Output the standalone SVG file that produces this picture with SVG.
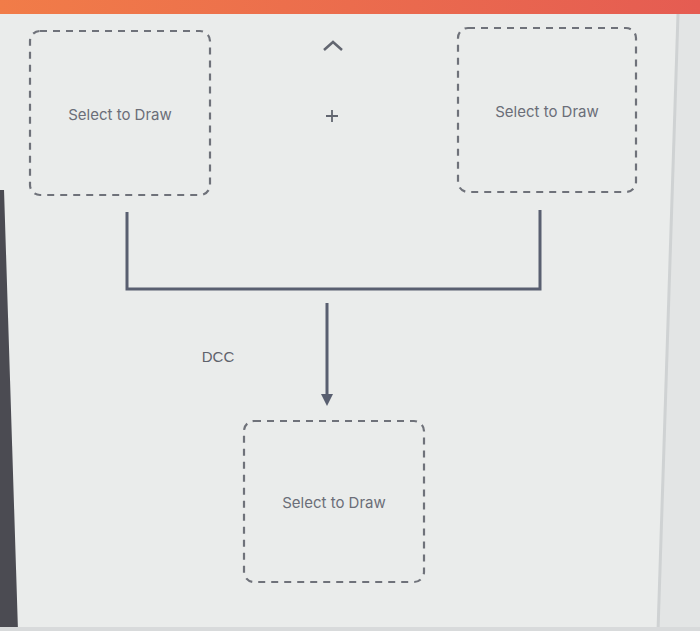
<svg xmlns="http://www.w3.org/2000/svg" width="700" height="631" viewBox="0 0 700 631">
<defs>
<linearGradient id="topbar" x1="0" y1="0" x2="1" y2="0">
<stop offset="0" stop-color="#f17c48"/>
<stop offset="1" stop-color="#e55c52"/>
</linearGradient>
<marker id="arrow" viewBox="0 0 12 12" refX="2" refY="6" markerWidth="12" markerHeight="12" markerUnits="userSpaceOnUse" orient="auto">
<path d="M0,0 L12,6 L0,12 Z" fill="#595f70"/>
</marker>
</defs>
<style>
.box{fill:none;stroke:#6f727a;stroke-width:2.2;stroke-dasharray:7 6}
.lbl{font-family:"Inter","Liberation Sans",sans-serif;font-size:15px;fill:#6b6e78;text-anchor:middle}
.conn{fill:none;stroke:#595f70;stroke-width:3}
</style>
<rect x="0" y="0" width="700" height="631" fill="#eaeceb"/>
<rect x="0" y="0" width="700" height="14" fill="url(#topbar)"/>
<polygon points="678,14 700,14 700,631 658,631" fill="#e3e5e5"/>
<line x1="678" y1="14" x2="658" y2="631" stroke="#cfd2d3" stroke-width="3"/>
<polygon points="0,190 4,190 18,631 0,631" fill="#4b4b52"/>
<rect x="0" y="627" width="700" height="4" fill="#d8dadb"/>
<g id="node-left">
<rect class="box" x="30" y="31" width="180" height="164" rx="10"/>
<text class="lbl" x="120" y="120">Select to Draw</text>
</g>
<g id="node-right">
<rect class="box" x="458" y="28" width="178" height="164" rx="10"/>
<text class="lbl" x="547" y="117">Select to Draw</text>
</g>
<g id="node-bottom">
<rect class="box" x="244" y="421" width="180" height="161" rx="10"/>
<text class="lbl" x="334" y="508">Select to Draw</text>
</g>
<g id="chevron">
<path d="M324,50 L333,42 L342,50" fill="none" stroke="#626670" stroke-width="2.5"/>
</g>
<g id="plus">
<path d="M332,110 V122 M326,116 H338" fill="none" stroke="#626670" stroke-width="1.8"/>
</g>
<g id="label-dcc">
<text x="218" y="362" font-family="'Liberation Sans',Arial,sans-serif" font-size="15" fill="#5f626b" text-anchor="middle">DCC</text>
</g>
<g id="connectors">
<path class="conn" d="M127,212 V289 H540 V210"/>
<line class="conn" x1="327" y1="303" x2="327" y2="396" marker-end="url(#arrow)"/>
</g>
</svg>
